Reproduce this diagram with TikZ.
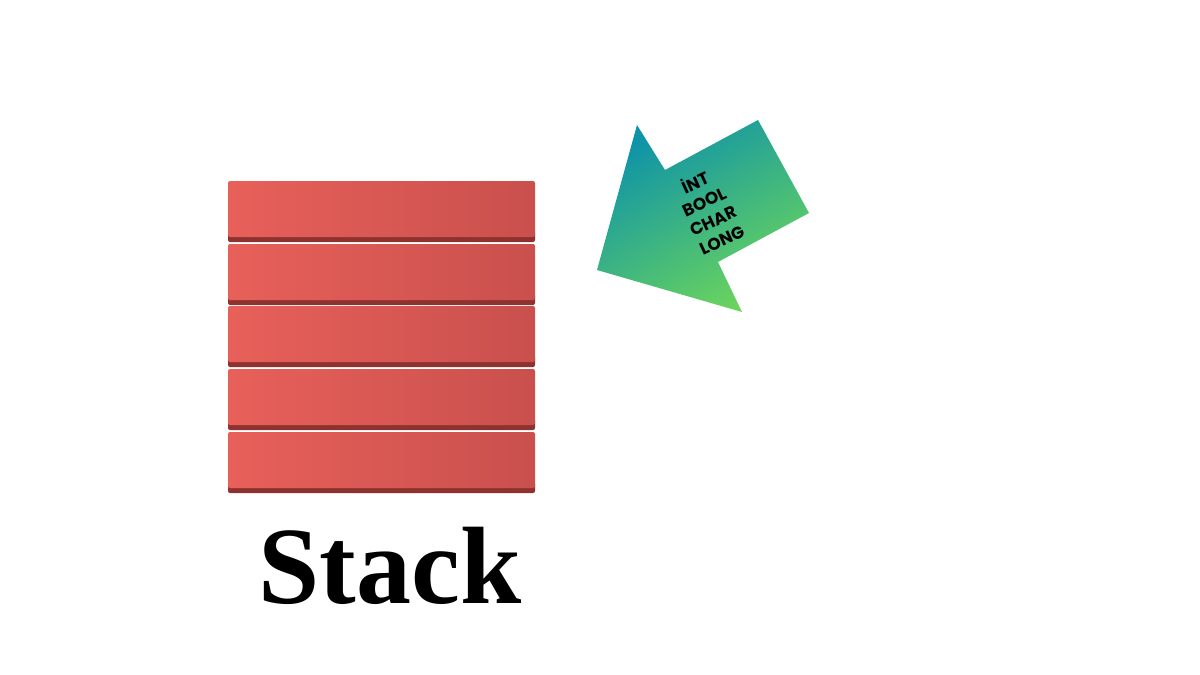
\documentclass[tikz,border=0pt]{standalone}
\usepackage{fontspec}
\setmainfont{Liberation Serif}
\newfontfamily\heavysans{Poppins}
\usetikzlibrary{shadings}
\begin{document}
\begin{tikzpicture}[x=1pt,y=-1pt,
  brick/.style={rounded corners=2pt, left color=brickA, right color=brickB},
  brickedge/.style={fill=brickD, rounded corners=2pt}]
\definecolor{brickA}{HTML}{E8605A}
\definecolor{brickB}{HTML}{C9504D}
\definecolor{brickD}{HTML}{8E3230}
\definecolor{arrA}{HTML}{0E93A8}
\definecolor{arrB}{HTML}{6CD55C}
\useasboundingbox[fill=white] (0,0) rectangle (1200,675);
\foreach \t/\n in {181/b1,244/b2,306/b3,369/b4,432/b5}{
  \fill[brickedge] (228,\t+50) rectangle (535,\t+61);
  \shade[brick] (228,\t) rectangle (535,\t+56);
  \coordinate (\n) at (381,\t+30);
}
\node[font=\fontsize{110}{110}\selectfont\bfseries, anchor=base] (stack) at (390,603) {Stack};
\shade[top color=arrA, bottom color=arrB, shading angle=30]
  (637,125) -- (665,170) -- (758,120) -- (809,213) -- (718,262) -- (742,312) -- (597,270) -- cycle;
\node[font=\heavysans\bfseries\fontsize{17}{21}\selectfont, align=center, rotate=25] (types) at (708,210) {İNT\\BOOL\\CHAR\\LONG};
\end{tikzpicture}
\end{document}
